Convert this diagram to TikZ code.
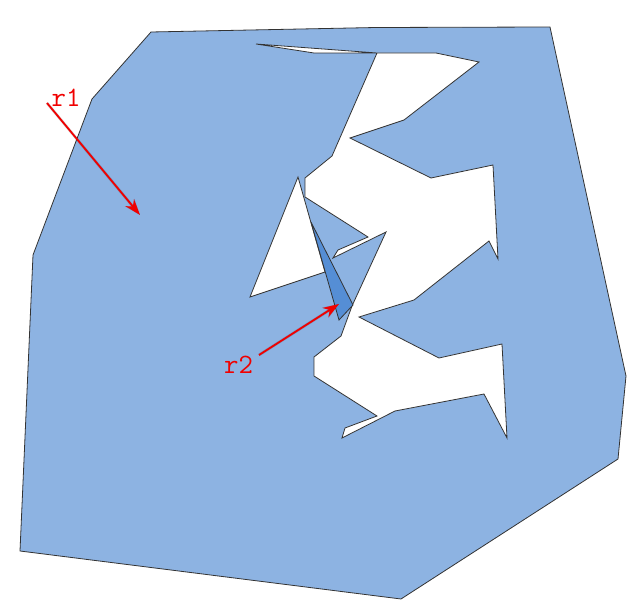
\documentclass[tikz,border=0pt]{standalone}
\usepackage{fontspec}
\usetikzlibrary{arrows.meta}
\definecolor{lightfill}{HTML}{8DB3E2}
\definecolor{darkfill}{HTML}{558ED5}
\definecolor{edgecol}{HTML}{333333}
\definecolor{arrowred}{HTML}{F00000}
\begin{document}
\begin{tikzpicture}[x=1pt,y=-1pt,
  region/.style={fill=lightfill, draw=edgecol, line width=0.8pt},
  holearea/.style={fill=white, draw=edgecol, line width=0.8pt},
  innerarea/.style={fill=darkfill, draw=edgecol, line width=0.8pt},
  pointer/.style={draw=arrowred, line width=1.8pt, -{Stealth[length=16pt,width=11pt,inset=5pt]}},
  pshadow/.style={draw=black, opacity=0.15, line width=2.8pt, -{Stealth[length=16pt,width=12pt,inset=5pt]}},
  lbl/.style={text=arrowred, font=\ttfamily\fontsize{28}{28}\selectfont, inner sep=0pt, anchor=base}]
\useasboundingbox (0,0) rectangle (638,615);
% region r1 (outer boundary)
\draw[region] (151,32) -- (376,27.5) -- (550,27) -- (626,376) -- (618,459) -- (401,599)
  -- (20,551) -- (33,255) -- (92,99) -- cycle;
% hole of r1
\draw[holearea] (256,44) -- (377,53) -- (399,53) -- (436,53) -- (479,62) -- (404,120)
  -- (350,138) -- (431,178) -- (493,165) -- (498,259) -- (489,241) -- (414,300)
  -- (359,317) -- (439,358) -- (502,344) -- (507,438) -- (484,394) -- (395,411)
  -- (342,438) -- (345,428) -- (377,416) -- (314,376) -- (314,357) -- (341,336)
  -- (352,306) -- (386,232) -- (333,258) -- (338,250) -- (368,237) -- (305,197)
  -- (305,178) -- (332,156) -- (377,53) -- (314,53) -- cycle;
% white triangle hole
\draw[holearea] (298,177) -- (250,297) -- (325,272) -- cycle;
% region r2
\draw[innerarea] (311,222) -- (339,320) -- (353,305) -- cycle;
% arrows
\coordinate (r1from) at (47,103);
\coordinate (r1to) at (140,215);
\coordinate (r2from) at (259,355);
\coordinate (r2to) at (339,304);
\begin{scope}[shift={(2,2.5)}]
  \draw[pshadow] (r1from) -- (r1to);
  \draw[pshadow] (r2from) -- (r2to);
\end{scope}
\draw[pointer] (r1from) -- (r1to);
\draw[pointer] (r2from) -- (r2to);
\node[lbl] (r1label) at (66,107) {r1};
\node[lbl] (r2label) at (238.5,373) {r2};
\end{tikzpicture}
\end{document}
